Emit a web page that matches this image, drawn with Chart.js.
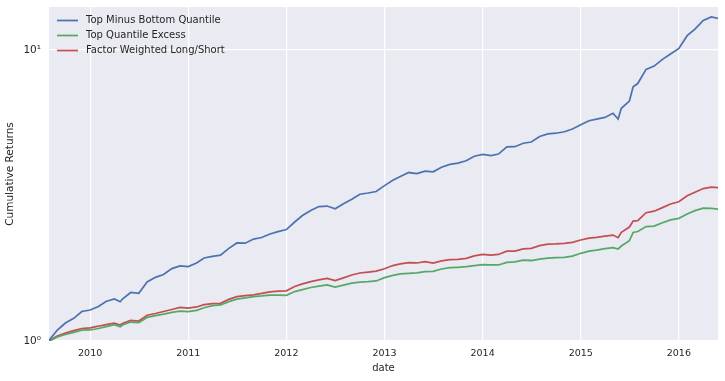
<!DOCTYPE html>
<html>
<head>
<meta charset="utf-8">
<script src="https://cdn.jsdelivr.net/npm/chart.js@4"></script>
<style>
  body { margin: 0; background: #fff; }
  #wrap { width: 725px; height: 381px; }
</style>
</head>
<body>
<div id="wrap"><canvas id="retChart" width="725" height="381"></canvas></div>
<script>
const dates = [
  '2009-08-01', '2009-09-01', '2009-10-01', '2009-11-01', '2009-12-01',
  '2010-01-01', '2010-02-01', '2010-03-01', '2010-04-01', '2010-04-23', '2010-05-01', '2010-06-01',
  '2010-07-01', '2010-08-01', '2010-09-01', '2010-10-01', '2010-11-01', '2010-12-01',
  '2011-01-01', '2011-02-01', '2011-03-01', '2011-04-01', '2011-05-01', '2011-06-01',
  '2011-07-01', '2011-08-01', '2011-09-01', '2011-10-01', '2011-11-01', '2011-12-01',
  '2012-01-01', '2012-02-01', '2012-03-01', '2012-04-01', '2012-05-01', '2012-06-01',
  '2012-07-01', '2012-08-01', '2012-09-01', '2012-10-01', '2012-11-01', '2012-12-01',
  '2013-01-01', '2013-02-01', '2013-03-01', '2013-04-01', '2013-05-01', '2013-06-01',
  '2013-07-01', '2013-08-01', '2013-09-01', '2013-10-01', '2013-11-01', '2013-12-01',
  '2014-01-01', '2014-02-01', '2014-03-01', '2014-04-01', '2014-05-01', '2014-06-01',
  '2014-07-01', '2014-08-01', '2014-09-01', '2014-10-01', '2014-11-01', '2014-12-01',
  '2015-01-01', '2015-02-01', '2015-03-01', '2015-04-01', '2015-05-01', '2015-05-20', '2015-06-01',
  '2015-07-01', '2015-07-15', '2015-08-01', '2015-09-01', '2015-10-01', '2015-11-01', '2015-12-01',
  '2016-01-01', '2016-02-01', '2016-03-01', '2016-04-01', '2016-05-01', '2016-05-26'
];

const topMinusBottom = [
  1.004, 1.091, 1.153, 1.196, 1.263,
  1.278, 1.314, 1.367, 1.396, 1.365, 1.394, 1.468,
  1.459, 1.595, 1.655, 1.693, 1.773, 1.812,
  1.802, 1.854, 1.929, 1.953, 1.972, 2.082,
  2.173, 2.168, 2.241, 2.268, 2.332, 2.375,
  2.416, 2.564, 2.699, 2.808, 2.899, 2.910,
  2.846, 2.961, 3.069, 3.195, 3.226, 3.264,
  3.420, 3.569, 3.678, 3.794, 3.761, 3.833,
  3.815, 3.956, 4.048, 4.090, 4.165, 4.316,
  4.381, 4.340, 4.391, 4.649, 4.653, 4.783,
  4.829, 5.044, 5.153, 5.177, 5.239, 5.352,
  5.533, 5.715, 5.793, 5.867, 6.065, 5.793, 6.305,
  6.680, 7.480, 7.672, 8.583, 8.810, 9.290, 9.688,
  10.135, 11.207, 11.808, 12.640, 13.005, 12.852
];

const topQuantileExcess = [
  0.998, 1.032, 1.053, 1.070, 1.089,
  1.091, 1.104, 1.121, 1.139, 1.120, 1.135, 1.162,
  1.156, 1.205, 1.222, 1.238, 1.254, 1.267,
  1.262, 1.275, 1.301, 1.322, 1.330, 1.366,
  1.392, 1.407, 1.420, 1.428, 1.439, 1.437,
  1.436, 1.479, 1.502, 1.527, 1.545, 1.558,
  1.531, 1.556, 1.580, 1.594, 1.599, 1.608,
  1.652, 1.682, 1.702, 1.709, 1.715, 1.730,
  1.736, 1.768, 1.786, 1.792, 1.800, 1.817,
  1.830, 1.825, 1.825, 1.864, 1.871, 1.897,
  1.891, 1.913, 1.927, 1.935, 1.938, 1.958,
  2.002, 2.035, 2.051, 2.076, 2.094, 2.071, 2.121,
  2.213, 2.360, 2.378, 2.474, 2.484, 2.550, 2.609,
  2.640, 2.732, 2.806, 2.864, 2.858, 2.842
];

const factorWeighted = [
  1.002, 1.040, 1.065, 1.085, 1.104,
  1.110, 1.124, 1.139, 1.151, 1.135, 1.149, 1.177,
  1.171, 1.226, 1.243, 1.263, 1.283, 1.304,
  1.298, 1.309, 1.333, 1.343, 1.348, 1.391,
  1.420, 1.431, 1.441, 1.457, 1.476, 1.483,
  1.488, 1.539, 1.572, 1.601, 1.623, 1.641,
  1.614, 1.649, 1.686, 1.713, 1.726, 1.739,
  1.771, 1.817, 1.842, 1.861, 1.854, 1.873,
  1.854, 1.886, 1.904, 1.909, 1.922, 1.962,
  1.984, 1.975, 1.983, 2.037, 2.038, 2.073,
  2.081, 2.126, 2.151, 2.156, 2.166, 2.184,
  2.224, 2.257, 2.270, 2.293, 2.313, 2.265, 2.363,
  2.465, 2.584, 2.593, 2.760, 2.793, 2.873, 2.957,
  3.011, 3.155, 3.246, 3.342, 3.382, 3.364
];

const yearTicks = [2010, 2011, 2012, 2013, 2014, 2015, 2016];
const yTicks = [1, 10];
const yTickLabels = ['10\u2070', '10\u00b9'];

// date string -> fractional year, so a linear axis can stand in for time
function toYear(s) {
  const [y, m, d] = s.split('-').map(Number);
  const start = Date.UTC(y, 0, 1), end = Date.UTC(y + 1, 0, 1);
  return y + (Date.UTC(y, m - 1, d) - start) / (end - start);
}

function pts(values) {
  return values.map((v, i) => ({ x: toYear(dates[i]), y: v }));
}

const textColor = '#262626';
const fontFam = '"DejaVu Sans", sans-serif';

const plotBg = {
  id: 'plotBg',
  beforeDraw(chart) {
    const { ctx, chartArea: a } = chart;
    ctx.save();
    ctx.fillStyle = '#EAEAF2';
    ctx.fillRect(a.left, a.top, a.right - a.left, a.bottom - a.top);
    ctx.restore();
  }
};

// legend drawn inside the plot, top-left, no frame
const innerLegend = {
  id: 'innerLegend',
  afterDatasetsDraw(chart) {
    const { ctx, chartArea: a } = chart;
    ctx.save();
    ctx.font = '10px ' + fontFam;
    ctx.textBaseline = 'middle';
    chart.data.datasets.forEach((ds, i) => {
      const y = a.top + 13.5 + i * 15;
      ctx.strokeStyle = ds.borderColor;
      ctx.lineWidth = 1.75;
      ctx.beginPath();
      ctx.moveTo(a.left + 8, y);
      ctx.lineTo(a.left + 29, y);
      ctx.stroke();
      ctx.fillStyle = textColor;
      ctx.fillText(ds.label, a.left + 37, y);
    });
    ctx.restore();
  }
};

const ctx = document.getElementById('retChart').getContext('2d');

new Chart(ctx, {
  type: 'line',
  data: {
    datasets: [
      { label: 'Top Minus Bottom Quantile', data: pts(topMinusBottom), borderColor: '#4C72B0' },
      { label: 'Top Quantile Excess', data: pts(topQuantileExcess), borderColor: '#55A868' },
      { label: 'Factor Weighted Long/Short', data: pts(factorWeighted), borderColor: '#C44E52' }
    ]
  },
  options: {
    responsive: false,
    animation: false,
    layout: { padding: { top: 7, right: 7, left: 0, bottom: 0 } },
    elements: {
      line: { borderWidth: 1.75, tension: 0 },
      point: { radius: 0 }
    },
    plugins: {
      legend: { display: false },
      tooltip: { enabled: false }
    },
    scales: {
      x: {
        type: 'linear',
        min: toYear(dates[0]),
        max: toYear(dates[dates.length - 1]),
        afterBuildTicks: (scale) => { scale.ticks = yearTicks.map(v => ({ value: v })); },
        afterFit: (scale) => { scale.height = 40; scale.paddingLeft = 0; scale.paddingRight = 0; },
        border: { display: false },
        grid: { color: '#FFFFFF', lineWidth: 1.2, drawTicks: false },
        ticks: {
          color: textColor,
          padding: 7,
          font: { family: fontFam, size: 9.5 },
          callback: (v) => String(v)
        },
        title: {
          display: true,
          text: 'date',
          color: textColor,
          font: { family: fontFam, size: 10 },
          padding: { top: 2, bottom: 7 }
        }
      },
      y: {
        type: 'logarithmic',
        min: 1,
        max: 14.06,
        afterBuildTicks: (scale) => { scale.ticks = yTicks.map(v => ({ value: v })); },
        afterFit: (scale) => { scale.width = 49; scale.paddingTop = 0; scale.paddingBottom = 0; },
        border: { display: false },
        grid: { color: '#FFFFFF', lineWidth: 1.2, drawTicks: false },
        ticks: {
          color: textColor,
          padding: 8,
          font: { family: fontFam, size: 10.5 },
          callback: (v) => yTickLabels[yTicks.indexOf(v)] || ''
        },
        title: {
          display: true,
          text: 'Cumulative Returns',
          color: textColor,
          font: { family: fontFam, size: 10.5 },
          padding: { top: 4, bottom: 0 }
        }
      }
    }
  },
  plugins: [plotBg, innerLegend]
});
</script>
</body>
</html>
